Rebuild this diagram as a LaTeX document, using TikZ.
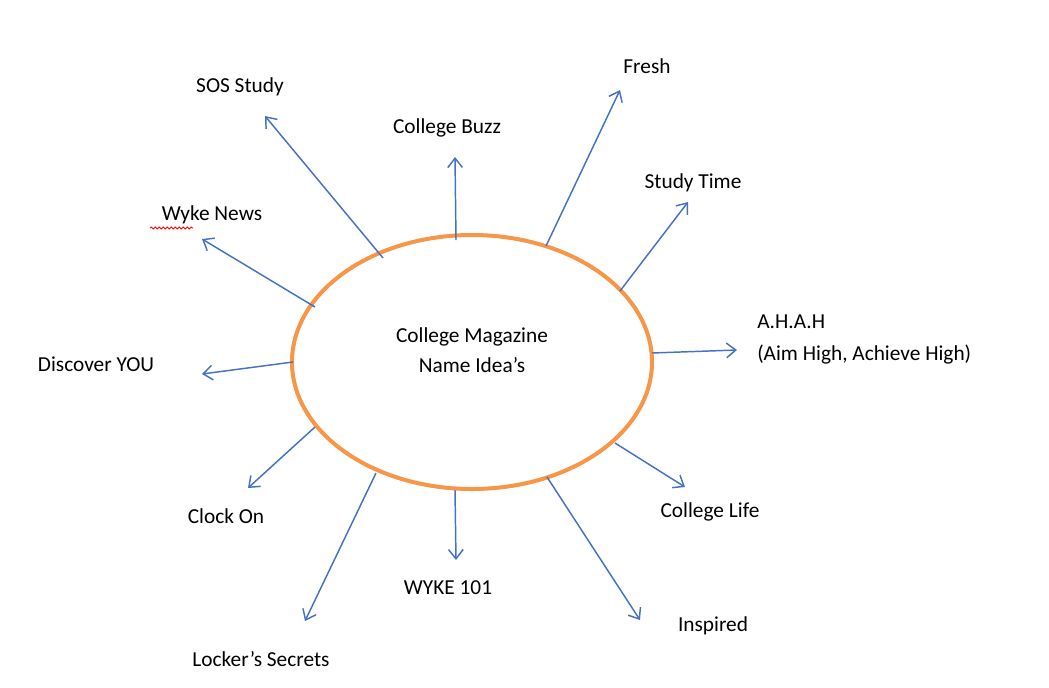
\documentclass[tikz,border=0pt]{standalone}
\usepackage{fontspec}
\setmainfont{Carlito}
\usetikzlibrary{arrows.meta,decorations.pathmorphing}
\definecolor{ablue}{RGB}{68,114,196}
\definecolor{aorange}{RGB}{247,150,70}
\begin{document}
\begin{tikzpicture}[x=0.75pt,y=-0.75pt,
  lab/.style={font=\fontsize{16}{20}\selectfont,inner sep=0pt},
  arr/.style={draw=ablue,line width=1.1pt,-{Straight Barb[length=7pt,width=11pt,line width=1.1pt]}}]
\useasboundingbox (0,0) rectangle (1049,687);
\draw[aorange,line width=3pt] (472,362) ellipse [x radius=180,y radius=127];
\node[lab,align=center] (c) at (472,350) {College Magazine\\[2pt]Name Idea’s};
\foreach \n/\a/\b/\c/\d in {sos/383/258/265/116, buzz/456/240/455/157, fresh/546/246/620/90,
  st/620/291/688/202, ahah/652/353/737/350, life/615/443/685/487, insp/547/477/640/620,
  wyke/455/490/456/560, lock/376/473/305/621, clock/315/427/248/488, disc/293/362/202/374,
  news/315/307/202/239}{
  \coordinate (\n s) at (\a,\b); \coordinate (\n e) at (\c,\d);
  \draw[arr] (\n s) -- (\n e);}
\node[lab] (l1) at (240,87) {SOS Study};
\node[lab] (l2) at (447,128) {College Buzz};
\node[lab] (l3) at (647,66) {Fresh};
\node[lab] (l4) at (693,183) {Study Time};
\node[lab,anchor=west,align=left] (l5) at (757,339) {A.H.A.H\\[4pt](Aim High, Achieve High)};
\node[lab] (l6) at (710,512) {College Life};
\node[lab] (l7) at (713,626) {Inspired};
\node[lab] (l8) at (448,588) {WYKE 101};
\node[lab] (l9) at (261,659) {Locker’s Secrets};
\node[lab] (l10) at (226,516) {Clock On};
\node[lab] (l11) at (96,364) {Discover YOU};
\node[lab] (l12) at (212,215) {Wyke News};
\coordinate (w1) at (150,228); \coordinate (w2) at (193,228);
\draw[red,line width=0.6pt,decorate,decoration={snake,amplitude=0.8pt,segment length=3pt}] (w1) -- (w2);
\end{tikzpicture}
\end{document}
